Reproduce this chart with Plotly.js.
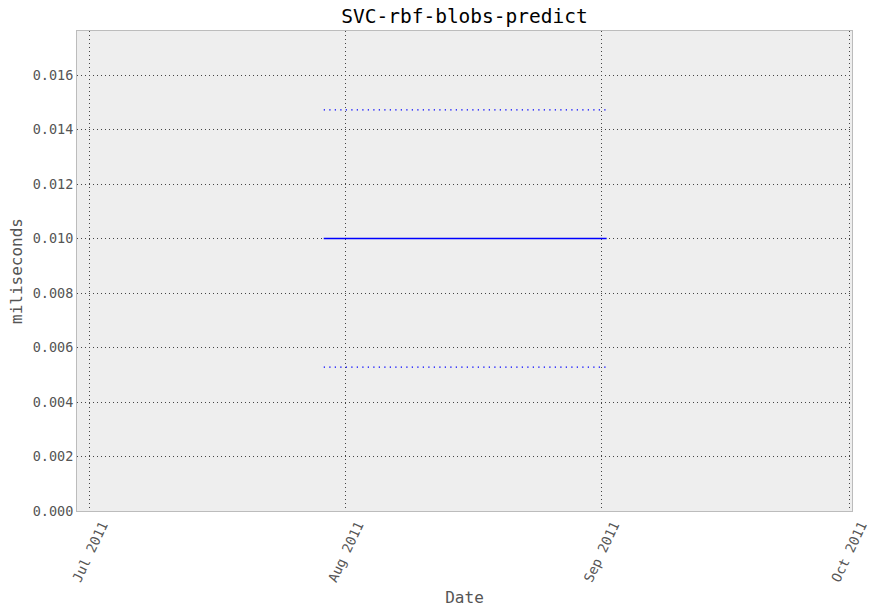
<!DOCTYPE html>
<html>
<head>
<meta charset="utf-8">
<script src="https://cdn.plot.ly/plotly-3.0.1.min.js"></script>
<style>html,body{margin:0;padding:0;background:#fff;}#chart{width:875px;height:613px;}</style>
</head>
<body>
<div id="chart"></div>
<script>
const dates = ['2011-07-29 08:00', '2011-09-01 15:00'];
const meanValues = [0.0100, 0.0100];
const upperValues = [0.01472, 0.01472];
const lowerValues = [0.00528, 0.00528];
const xTickVals = ['2011-07-01', '2011-08-01', '2011-09-01', '2011-10-01'];
const xTickText = ['Jul 2011', 'Aug 2011', 'Sep 2011', 'Oct 2011'];

const mono = 'DejaVu Sans Mono, monospace';
const traces = [
  {x: dates, y: meanValues, mode: 'lines', line: {color: '#0000ff', width: 1.3}, hoverinfo: 'skip'},
  {x: dates, y: upperValues, mode: 'lines', line: {color: '#0000ff', width: 1.3, dash: '1.3px,4.2px'}, hoverinfo: 'skip'},
  {x: dates, y: lowerValues, mode: 'lines', line: {color: '#0000ff', width: 1.3, dash: '1.3px,4.2px'}, hoverinfo: 'skip'}
];
const layout = {
  width: 875, height: 613,
  margin: {l: 77, r: 23, t: 31, b: 102},
  paper_bgcolor: '#ffffff',
  plot_bgcolor: '#eeeeee',
  showlegend: false,
  title: {text: 'SVC-rbf-blobs-predict', font: {family: mono, size: 19.5, color: '#000'}, xref: 'paper', x: 0.5, xanchor: 'center', y: 0.985, yanchor: 'top'},
  xaxis: {
    type: 'date',
    range: ['2011-06-29 10:13', '2011-10-01 08:43'],
    tickvals: xTickVals, ticktext: xTickText,
    tickangle: -65,
    ticks: '',
    ticklabelshift: 12,
    tickfont: {family: mono, size: 13.5, color: '#555555'},
    showgrid: true, gridcolor: '#444444', gridwidth: 1, griddash: '1px,3px',
    showline: true, mirror: true, linecolor: '#bcbcbc', linewidth: 1,
    zeroline: false,
    title: {text: 'Date', font: {family: mono, size: 16, color: '#555555'}, standoff: 8}
  },
  yaxis: {
    range: [0, 0.017615],
    dtick: 0.002, tick0: 0,
    tickformat: '.3f',
    ticks: '',
    tickfont: {family: mono, size: 13.5, color: '#555555'},
    showgrid: true, gridcolor: '#444444', gridwidth: 1, griddash: '1px,3px',
    showline: true, mirror: true, linecolor: '#bcbcbc', linewidth: 1,
    zeroline: false,
    title: {text: 'miliseconds', font: {family: mono, size: 16, color: '#555555'}, standoff: 6}
  }
};
Plotly.newPlot('chart', traces, layout, {displayModeBar: false, staticPlot: true});
</script>
</body>
</html>
